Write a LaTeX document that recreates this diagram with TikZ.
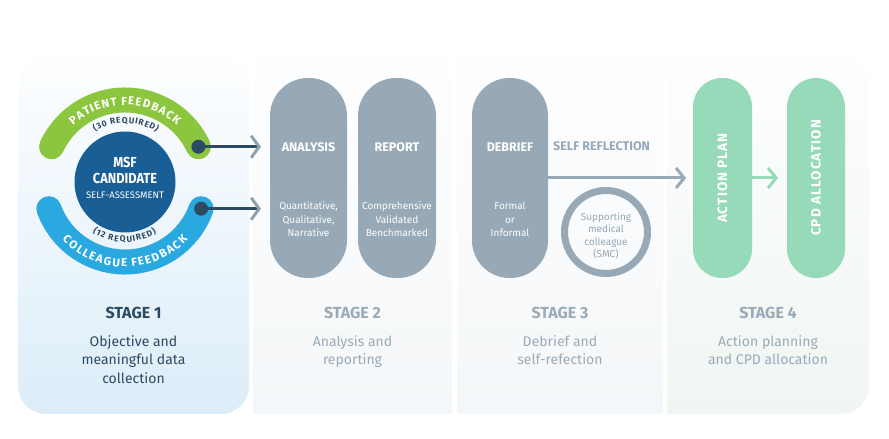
\documentclass[tikz,border=0pt]{standalone}
\usepackage{fontspec}
\setmainfont{Fira Sans}
\newfontfamily\condfont[FakeStretch=0.88]{Fira Sans}
\newfontfamily\spacedfont[LetterSpace=8]{Fira Sans}
\usetikzlibrary{arrows.meta,decorations.text}
\definecolor{pgreen}{HTML}{8CC63F}
\definecolor{cblue}{HTML}{2AA9E0}
\definecolor{navy}{HTML}{195E95}
\definecolor{darknavy}{HTML}{2D4A63}
\definecolor{pillgrey}{HTML}{97A9B6}
\definecolor{arrowgrey}{HTML}{8FA2B0}
\definecolor{labelgrey}{HTML}{9AABB8}
\definecolor{mint}{HTML}{96DAB9}
\definecolor{sonetop}{HTML}{FDFEFF}
\definecolor{sonebot}{HTML}{DCEDF8}
\definecolor{smidtop}{HTML}{FEFEFF}
\definecolor{smidbot}{HTML}{F4F7F9}
\definecolor{sfourtop}{HTML}{FEFEFE}
\definecolor{sfourbot}{HTML}{EFF6F2}
\begin{document}
\begin{tikzpicture}[x=1pt,y=1pt,
  pill/.style={rectangle, fill=pillgrey, minimum height=200pt, inner sep=0pt},
  mintpill/.style={rectangle, fill=mint, minimum height=200pt, minimum width=59pt, rounded corners=29pt, inner sep=0pt},
  pillhead/.style={text=white, font=\fontsize{12.5}{14}\selectfont\bfseries, inner sep=0pt},
  pillbody/.style={text=white, font=\fontsize{10}{13.5}\selectfont, align=center, inner sep=0pt},
  stagelbl/.style={font=\fontsize{16}{18}\selectfont\bfseries, inner sep=0pt},
  stagedesc/.style={font=\fontsize{14}{18.5}\selectfont, align=center, inner sep=0pt, anchor=north},
  vertlbl/.style={rotate=90, text=white, font=\fontsize{13.5}{14}\selectfont\spacedfont\bfseries, inner sep=0pt},
  dot/.style={circle, fill=darknavy, minimum size=14pt, inner sep=0pt},
  feedarrow/.style={line width=3pt, draw=darknavy, -{Straight Barb[length=8pt,width=22pt,color=arrowgrey]}},
  flowarrow/.style={line width=3pt, -{Straight Barb[length=8pt,width=20pt]}},
]
\useasboundingbox (0,0) rectangle (889,439);
% panels
\shade[top color=sonetop, bottom color=sonebot, rounded corners=28pt] (18,25) rectangle (249,384);
\shade[top color=smidtop, bottom color=smidbot] (253,25) rectangle (452,384);
\shade[top color=smidtop, bottom color=smidbot] (457,25) rectangle (663,384);
\shade[top color=sfourtop, bottom color=sfourbot] (667,25) -- (667,384) -- (841,384) arc[start angle=90, end angle=0, radius=28] -- (869,53) arc[start angle=0, end angle=-90, radius=28] -- cycle;
% stage 1 rings
\coordinate (ringc) at (125,258);
\draw[line width=25pt, line cap=round, pgreen] ([shift={(155:81)}]ringc) arc[start angle=155, end angle=25, radius=81];
\draw[line width=25pt, line cap=round, cblue] ([shift={(200:81)}]ringc) arc[start angle=200, end angle=340, radius=81];
\path[decorate, decoration={text effects along path, text={PATIENT FEEDBACK},
  text effects/.cd, text along path, fit text to path,
  characters={text=white, font=\fontsize{11.5}{12}\selectfont\bfseries}}]
  ([shift={(133:76)}]ringc) arc[start angle=133, end angle=47, radius=76];
\path[decorate, decoration={text effects along path, text={COLLEAGUE FEEDBACK},
  text effects/.cd, text along path, fit text to path,
  characters={text=white, font=\fontsize{11.5}{12}\selectfont\bfseries}}]
  ([shift={(223:86)}]ringc) arc[start angle=223, end angle=317, radius=86];
\path[decorate, decoration={text effects along path, text={(30 REQUIRED)},
  text effects/.cd, text along path, fit text to path,
  characters={text=darknavy, font=\fontsize{8.5}{9}\selectfont\bfseries}}]
  ([shift={(121:58)}]ringc) arc[start angle=121, end angle=57, radius=58];
\path[decorate, decoration={text effects along path, text={(12 REQUIRED)},
  text effects/.cd, text along path, fit text to path,
  characters={text=darknavy, font=\fontsize{8.5}{9}\selectfont\bfseries}}]
  ([shift={(238:61)}]ringc) arc[start angle=238, end angle=301, radius=61];
\node[circle, fill=navy, minimum size=101pt, inner sep=0pt] (msf) at (125,257) {};
\node[text=white, font=\fontsize{14.5}{15}\selectfont\condfont\bfseries, inner sep=0pt] (msft) at (125,277) {MSF};
\node[text=white, font=\fontsize{14.5}{15}\selectfont\condfont\bfseries, inner sep=0pt] (cand) at (125,261) {CANDIDATE};
\node[text=white, font=\fontsize{9.5}{10}\selectfont, inner sep=0pt] (selfa) at (125,244) {SELF-ASSESSMENT};
\path ([shift={(25:81)}]ringc) node[dot] (gdot) {};
\path ([shift={(340:81)}]ringc) node[dot] (bdot) {};
\coordinate (gtip) at (261,292);
\coordinate (btip) at (261,229);
\draw[feedarrow] (gdot.center) -- (gdot.center -| gtip);
\draw[feedarrow] (bdot.center) -- (bdot.center -| btip);
% stage 2
\node[pill, minimum width=77pt, rounded corners=38pt] (ana) at (308.5,261) {};
\node[pillhead] (anah) at (308.5,292) {ANALYSIS};
\node[pillbody] (anab) at (308.5,219.5) {Quantitative,\\Qualitative,\\Narrative};
\node[pill, minimum width=78pt, rounded corners=38pt] (rep) at (397,261) {};
\node[pillhead] (reph) at (397,292) {REPORT};
\node[pillbody] (repb) at (397,219.5) {Comprehensive\\Validated\\Benchmarked};
% stage 3
\node[pill, minimum width=76pt, rounded corners=37.5pt] (deb) at (510,261) {};
\node[pillhead] (debh) at (510,292) {DEBRIEF};
\node[pillbody] (debb) at (510,219.5) {Formal\\or\\Informal};
\node[font=\fontsize{12.5}{14}\selectfont\bfseries, text=pillgrey, anchor=west, inner sep=0pt] (selfr) at (553,293) {SELF REFLECTION};
\coordinate (srtip) at (686,261);
\draw[flowarrow, draw=pillgrey] (deb.east) -- (srtip);
\node[circle, draw=pillgrey, line width=7pt, minimum size=83pt, inner sep=0pt] (smc) at (606,207) {};
\node[font=\fontsize{10}{12.4}\selectfont, text=pillgrey, align=center, inner sep=0pt] (smct) at (606,203) {Supporting\\medical\\colleague\\(SMC)};
% stage 4
\node[mintpill] (act) at (722.5,261) {};
\node[vertlbl] (actt) at (722.5,261) {ACTION PLAN};
\node[mintpill, minimum width=58pt] (cpd) at (816,261) {};
\node[vertlbl] (cpdt) at (816,261) {CPD ALLOCATION};
\coordinate (acttip) at (778,261);
\draw[flowarrow, draw=mint] (act.east) -- (acttip);
% stage labels
\node[stagelbl, text=darknavy] (s1) at (133.5,126) {STAGE 1};
\node[stagelbl, text=labelgrey] (s2) at (352.5,126) {STAGE 2};
\node[stagelbl, text=labelgrey] (s3) at (560,126) {STAGE 3};
\node[stagelbl, text=labelgrey] (s4) at (768,126) {STAGE 4};
\node[stagedesc, text=darknavy] (d1) at (133.5,104) {Objective and\\meaningful data\\collection};
\node[stagedesc, text=labelgrey] (d2) at (352.5,104) {Analysis and\\reporting};
\node[stagedesc, text=labelgrey] (d3) at (560,104) {Debrief and\\self-refection};
\node[stagedesc, text=labelgrey] (d4) at (768,104) {Action planning\\and CPD allocation};
\end{tikzpicture}
\end{document}
